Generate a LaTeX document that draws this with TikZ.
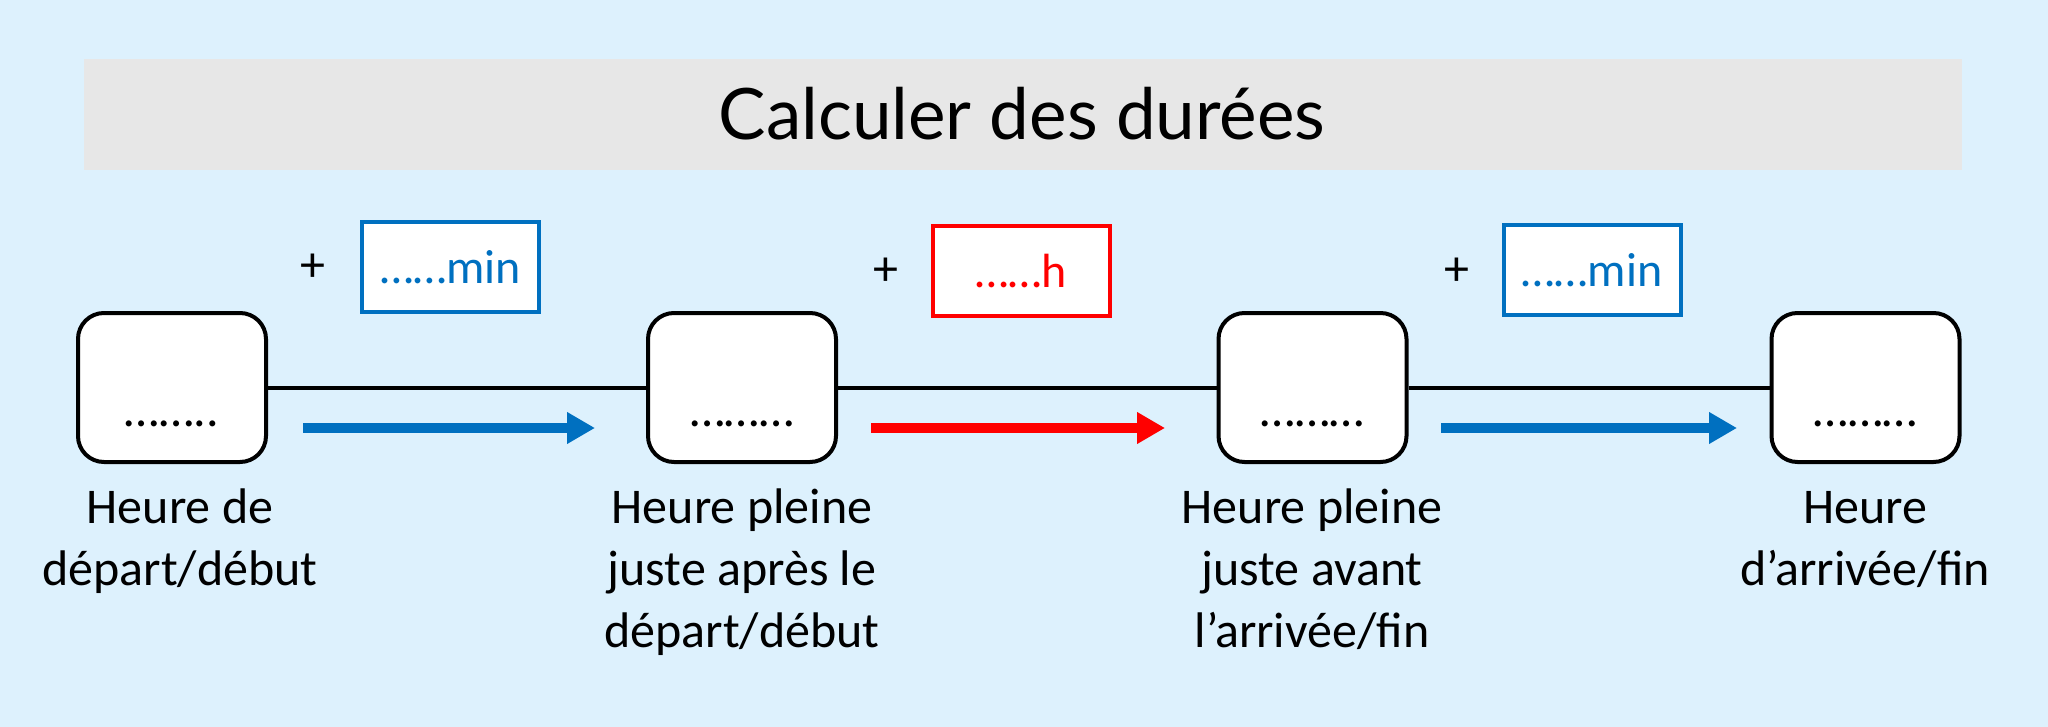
\documentclass[tikz,border=0pt]{standalone}
\usepackage{fontspec}
\setmainfont{Carlito}
\newfontfamily\titlefont{Lato}
\usetikzlibrary{arrows.meta}
\definecolor{bgblue}{HTML}{DDF1FD}
\definecolor{bandgray}{HTML}{E7E7E7}
\definecolor{mblue}{HTML}{0070C0}
\definecolor{mred}{HTML}{FF0000}
\begin{document}
\begin{tikzpicture}[x=0.5pt,y=-0.5pt,
  timebox/.style={draw=black, line width=2pt, fill=white, rounded corners=13pt, minimum width=94pt, minimum height=74.5pt, inner sep=0pt},
  addbox/.style={draw=#1, line width=2pt, fill=white, minimum width=88.5pt, minimum height=45pt, inner sep=0pt, text=#1, font=\fontsize{24}{28}\selectfont},
  dotstxt/.style={font=\fontsize{25}{30}\selectfont, anchor=base, inner sep=0pt},
  caption/.style={font=\fontsize{25}{31}\selectfont, align=center, anchor=base, inner sep=0pt},
  plus/.style={font=\fontsize{25}{30}\selectfont, inner sep=0pt},
  flow/.style={line width=5pt, -{Triangle[length=14pt,width=15pt]}},
  link/.style={line width=2pt}
]
\fill[bgblue] (0,0) rectangle (2048,727);
\useasboundingbox (0,0) rectangle (2048,727);
\node[fill=bandgray, minimum width=939pt, minimum height=55.5pt, inner sep=0pt] (band) at (1022.5,114.5) {};
\node[font=\titlefont\fontsize{35.5}{40}\selectfont, inner sep=0pt] (title) at (1022,114) {Calculer des durées};

\node[timebox] (b1) at (172,387.5) {};
\node[timebox] (b2) at (742,387.5) {};
\node[timebox] (b3) at (1312.5,387.5) {};
\node[timebox] (b4) at (1865.5,387.5) {};

\draw[link] (b1.east) -- (b2.west);
\draw[link] (b2.east) -- (b3.west);
\draw[link] (b3.east) -- (b4.west);

\node[dotstxt] (d1) at (172,426) {……..};
\node[dotstxt] (d2) at (742,426) {………};
\node[dotstxt] (d3) at (1312.5,426) {………};
\node[dotstxt] (d4) at (1865.5,426) {………};

\coordinate (f1s) at (303,428); \coordinate (f1e) at (595,428);
\coordinate (f2s) at (871,428); \coordinate (f2e) at (1165,428);
\coordinate (f3s) at (1441,428); \coordinate (f3e) at (1737,428);
\draw[flow, mblue] (f1s) -- (f1e);
\draw[flow, mred] (f2s) -- (f2e);
\draw[flow, mblue] (f3s) -- (f3e);

\node[plus] (p1) at (313,268) {+};
\node[plus] (p2) at (886,272) {+};
\node[plus] (p3) at (1457,272) {+};
\node[addbox=mblue] (m1) at (450.5,267) {……min};
\node[addbox=mred] (h1) at (1021,271) {……h};
\node[addbox=mblue] (m2) at (1592,270) {……min};

\node[caption] (c1) at (180,585) {Heure de\\départ/début};
\node[caption] (c2) at (742,647) {Heure pleine\\juste après le\\départ/début};
\node[caption] (c3) at (1312,647) {Heure pleine\\juste avant\\l’arrivée/fin};
\node[caption] (c4) at (1865,585) {Heure\\d’arrivée/fin};
\end{tikzpicture}
\end{document}
